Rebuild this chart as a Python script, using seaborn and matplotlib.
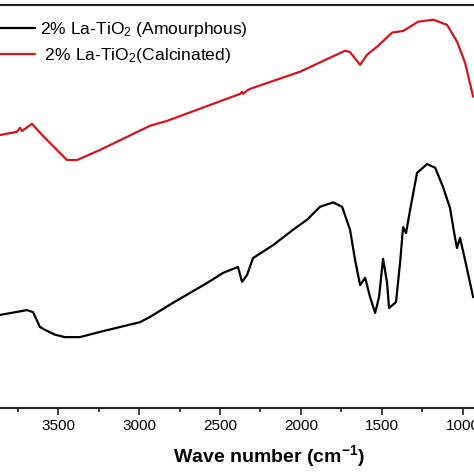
import numpy as np
import pandas as pd
import matplotlib
matplotlib.use("Agg")
import matplotlib.pyplot as plt
import seaborn as sns

# Espectros FTIR (número de onda em cm-1, transmitância em u.a.)
wn_amorfo = [3860, 3693, 3656, 3613, 3582, 3520, 3459, 3366, 3242, 2995, 2933,
             2791, 2581, 2482, 2389, 2364, 2333, 2296, 2172, 2049, 1962, 1882,
             1801, 1745, 1696, 1665, 1634, 1603, 1572, 1541, 1517, 1492, 1467,
             1455, 1412, 1387, 1368, 1350, 1325, 1282, 1220, 1170, 1121, 1078,
             1047, 1035, 1016, 985, 935]
t_amorfo = [23.1, 24.3, 23.8, 20.1, 19.4, 18.2, 17.6, 17.6, 18.9, 21.3, 22.6,
            26.1, 31.0, 33.5, 35.0, 31.3, 33.0, 37.2, 40.4, 44.2, 46.7, 49.9,
            51.0, 49.9, 44.2, 36.7, 30.5, 32.3, 27.5, 23.6, 27.5, 37.0, 31.0,
            24.8, 26.3, 36.0, 44.9, 43.4, 49.1, 58.3, 60.5, 59.6, 54.8, 49.6,
            42.2, 39.7, 42.2, 36.7, 27.5]

wn_calc = [3860, 3755, 3737, 3724, 3663, 3595, 3446, 3384, 3242, 2933, 2828,
           2376, 2364, 2357, 2327, 2296, 2005, 1727, 1697, 1634, 1591, 1529,
           1436, 1368, 1275, 1182, 1096, 1034, 985, 935]
t_calc = [67.7, 68.5, 69.5, 68.7, 70.5, 67.5, 61.5, 61.5, 64.0, 70.0, 71.2,
          77.9, 78.4, 77.9, 78.9, 79.4, 83.4, 88.6, 88.3, 85.1, 87.6, 89.6,
          93.1, 93.5, 95.8, 96.3, 95.0, 90.8, 85.6, 77.2]

ticks_x = [3500, 3000, 2500, 2000, 1500, 1000]
rotulos = ["2% La-TiO$_2$ (Amourphous)", " 2% La-TiO$_2$(Calcinated)"]
cores = ["#000000", "#d7141a"]

sns.set_theme(style="ticks")
plt.rcParams['font.family'] = ['Liberation Sans', 'DejaVu Sans']
plt.rcParams['mathtext.fontset'] = 'custom'
plt.rcParams['mathtext.rm'] = 'Liberation Sans'
plt.rcParams['mathtext.it'] = 'Liberation Sans:italic'
plt.rcParams['mathtext.bf'] = 'Liberation Sans:bold'
plt.rcParams['text.color'] = 'black'
plt.rcParams['axes.labelcolor'] = 'black'
plt.rcParams['xtick.color'] = 'black'

fig = plt.figure(figsize=(4.74, 4.74), dpi=100)
# eixo maior que a figura: a imagem original está recortada nas laterais
ax = fig.add_axes([-0.0477, 0.139, 1.2285, 0.851])

df1 = pd.DataFrame({'wn': wn_amorfo, 't': t_amorfo})
df2 = pd.DataFrame({'wn': wn_calc, 't': t_calc})
sns.lineplot(data=df1, x='wn', y='t', color=cores[0], lw=1.6, label=rotulos[0], ax=ax)
sns.lineplot(data=df2, x='wn', y='t', color=cores[1], lw=1.6, label=rotulos[1], ax=ax)

ax.set_xlim(4000, 400)
ax.set_ylim(0, 100)
ax.set_xticks(ticks_x)
ax.set_xticks(np.arange(3750, 400, -500), minor=True)
ax.set_yticks([])
ax.tick_params(axis='x', which='major', direction='out', length=5, width=1.2,
               labelsize=11, pad=3, color='#222222', labelcolor='black')
ax.tick_params(axis='x', which='minor', direction='out', length=3, width=1.2,
               color='#222222')
for s in ax.spines.values():
    s.set_linewidth(1.5)
    s.set_color('#222222')

ax.set_xlabel("Wave number (cm$^{\\mathbf{-1}}$)", fontsize=14, fontweight='bold',
              labelpad=7, color='black')
ax.set_ylabel("")

leg = ax.legend(loc='upper left', bbox_to_anchor=(-0.011, 0.958), bbox_transform=fig.transFigure,
                frameon=False, fontsize=12.6, handlelength=2.3, handletextpad=0.3,
                labelspacing=0.4, borderpad=0, borderaxespad=0)
for t in leg.get_texts():
    t.set_color('black')

fig.savefig("out.png", dpi=100)
